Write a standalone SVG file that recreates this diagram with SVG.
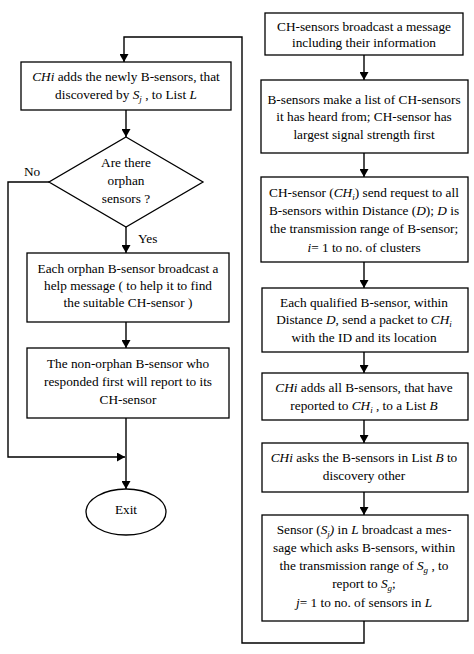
<svg xmlns="http://www.w3.org/2000/svg" width="474" height="654" viewBox="0 0 474 654">
<style>
.box{fill:#fff;stroke:#000;stroke-width:1.3}
.t{font-family:"Liberation Serif","Times New Roman",serif;font-size:13.3px;fill:#000;text-anchor:middle}
.l{font-family:"Liberation Serif","Times New Roman",serif;font-size:13.3px;fill:#000}
.i{font-style:italic}
.s{font-style:italic;font-size:9px}
.c{fill:none;stroke:#000;stroke-width:1.4}
</style>
<defs>
<marker id="ah" markerWidth="8" markerHeight="9" refX="8" refY="4.5" orient="auto" markerUnits="userSpaceOnUse"><path d="M0,0 L8,4.5 L0,9 z" fill="#000"/></marker>
</defs>
<rect width="474" height="654" fill="#fff"/>
<g id="connectors">
<path class="c" d="M364,621 V643 H242 V37 H124 V62" marker-end="url(#ah)"/>
<path class="c" d="M126,110 V137" marker-end="url(#ah)"/>
<path class="c" d="M126,227 V253" marker-end="url(#ah)"/>
<path class="c" d="M126,322 V348" marker-end="url(#ah)"/>
<path class="c" d="M126,418 V489" marker-end="url(#ah)"/>
<path class="c" d="M49,182 H8 V457 H125" marker-end="url(#ah)"/>
<path class="c" d="M364,55 V80" marker-end="url(#ah)"/>
<path class="c" d="M364,153 V177" marker-end="url(#ah)"/>
<path class="c" d="M364,262 V288" marker-end="url(#ah)"/>
<path class="c" d="M364,352 V373" marker-end="url(#ah)"/>
<path class="c" d="M364,420 V443" marker-end="url(#ah)"/>
<path class="c" d="M364,492 V515" marker-end="url(#ah)"/>
<text class="l" x="24" y="176">No</text>
<text class="l" x="138" y="242.5">Yes</text>
</g>
<g id="L1">
<rect class="box" x="21" y="62" width="210" height="48"/>
<text class="t" x="126" y="81"><tspan class="i">CHi</tspan> adds the newly B-sensors, that</text>
<text class="t" x="126" y="99">discovered by <tspan class="i">S</tspan><tspan class="s" dy="3">j</tspan><tspan dy="-3"> , to List </tspan><tspan class="i">L</tspan></text>
</g>
<g id="D1">
<polygon class="box" points="126,137 203,182 126,227 49,182"/>
<text class="t" x="126" y="166.5">Are there</text>
<text class="t" x="126" y="184.5">orphan</text>
<text class="t" x="126" y="202.5">sensors ?</text>
</g>
<g id="L2">
<rect class="box" x="27" y="253" width="202" height="69"/>
<text class="t" x="128" y="272.5">Each orphan B-sensor broadcast a</text>
<text class="t" x="128" y="290">help message ( to help it to find</text>
<text class="t" x="128" y="307">the suitable CH-sensor )</text>
</g>
<g id="L3">
<rect class="box" x="27" y="348" width="202" height="70"/>
<text class="t" x="128" y="368">The non-orphan B-sensor who</text>
<text class="t" x="128" y="385.5">responded first will report to its</text>
<text class="t" x="128" y="404">CH-sensor</text>
</g>
<g id="Exit">
<ellipse class="box" cx="126" cy="512" rx="40" ry="23"/>
<text class="t" x="126" y="513.5">Exit</text>
</g>
<g id="R1">
<rect class="box" x="265" y="13" width="198" height="42"/>
<text class="t" x="364" y="30.5">CH-sensors broadcast a message</text>
<text class="t" x="364" y="47">including their information</text>
</g>
<g id="R2">
<rect class="box" x="261" y="80" width="207" height="73"/>
<text class="t" x="364" y="103.5">B-sensors make a list of CH-sensors</text>
<text class="t" x="364" y="121">it has heard from; CH-sensor has</text>
<text class="t" x="364" y="138.5">largest signal strength first</text>
</g>
<g id="R3">
<rect class="box" x="261" y="177" width="207" height="85"/>
<text class="t" x="364" y="196.5">CH-sensor (<tspan class="i">CH</tspan><tspan class="s" dy="3">i</tspan><tspan dy="-3">) send request to all</tspan></text>
<text class="t" x="364" y="214.5">B-sensors within Distance (<tspan class="i">D</tspan>); <tspan class="i">D</tspan> is</text>
<text class="t" x="364" y="232.5">the transmission range of B-sensor;</text>
<text class="t" x="364" y="251.5"><tspan class="i">i</tspan>= 1 to no. of clusters</text>
</g>
<g id="R4">
<rect class="box" x="262" y="288" width="206" height="64"/>
<text class="t" x="364" y="306.5">Each qualified B-sensor, within</text>
<text class="t" x="364" y="323.5">Distance <tspan class="i">D</tspan>, send a packet to <tspan class="i">CH</tspan><tspan class="s" dy="3">i</tspan></text>
<text class="t" x="364" y="341.5">with the ID and its location</text>
</g>
<g id="R5">
<rect class="box" x="262" y="373" width="206" height="47"/>
<text class="t" x="364" y="391.5"><tspan class="i">CHi</tspan> adds all B-sensors, that have</text>
<text class="t" x="364" y="409.5">reported to <tspan class="i">CH</tspan><tspan class="s" dy="3">i</tspan><tspan dy="-3"> , to a List </tspan><tspan class="i">B</tspan></text>
</g>
<g id="R6">
<rect class="box" x="262" y="443" width="206" height="49"/>
<text class="t" x="364" y="461.5"><tspan class="i">CHi</tspan> asks the B-sensors in List <tspan class="i">B</tspan> to</text>
<text class="t" x="364" y="479.5">discovery other</text>
</g>
<g id="R7">
<rect class="box" x="262" y="515" width="206" height="106"/>
<text class="t" x="364" y="533.5">Sensor (<tspan class="i">S</tspan><tspan class="s" dy="3">j</tspan><tspan dy="-3" class="i">)</tspan> in <tspan class="i">L</tspan> broadcast a mes-</text>
<text class="t" x="364" y="551.5">sage which asks B-sensors, within</text>
<text class="t" x="364" y="569.5">the transmission range of <tspan class="i">S</tspan><tspan class="s" dy="3">g</tspan><tspan dy="-3"> , to</tspan></text>
<text class="t" x="364" y="587.5">report to <tspan class="i">S</tspan><tspan class="s" dy="3">g</tspan><tspan dy="-3">;</tspan></text>
<text class="t" x="364" y="606.5"><tspan class="i">j</tspan>= 1 to no. of sensors in <tspan class="i">L</tspan></text>
</g>
</svg>
